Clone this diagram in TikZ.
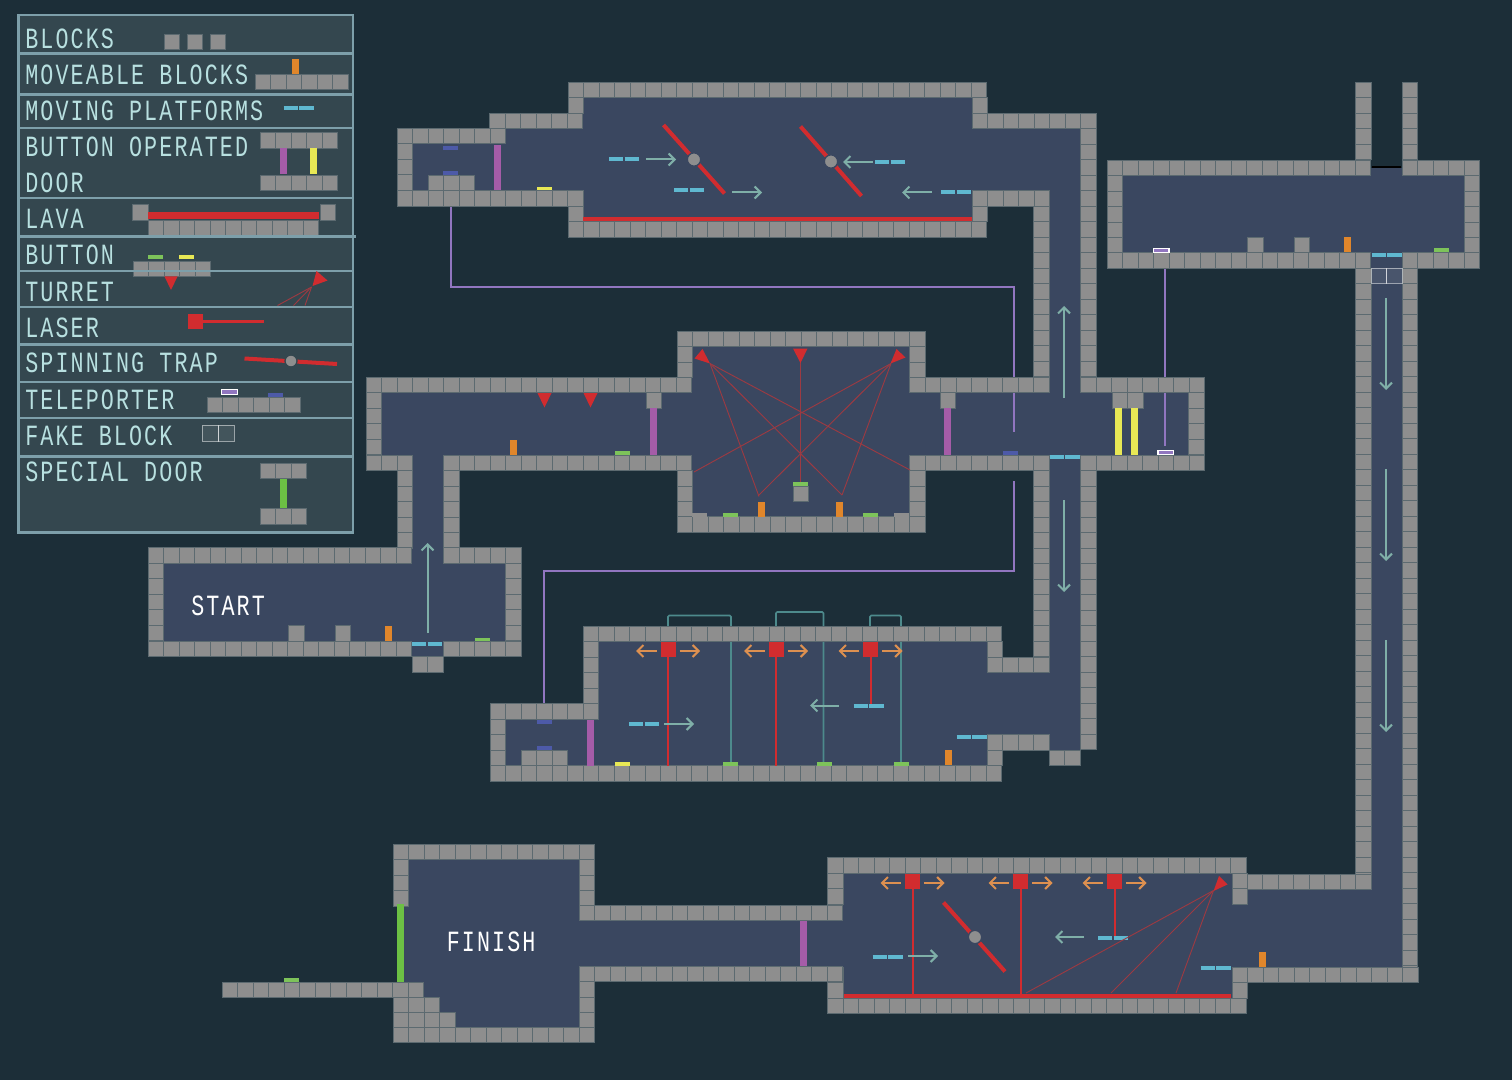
\documentclass[tikz,border=0pt]{standalone}
\usepackage{fontspec}
\usetikzlibrary{arrows.meta}
\newfontfamily\gamefont[FakeStretch=0.74,LetterSpace=7.2]{Liberation Mono}
\definecolor{bgcol}{HTML}{1C2E38}
\definecolor{roomcol}{HTML}{3A4760}
\definecolor{panelcol}{HTML}{34474F}
\definecolor{framecol}{HTML}{7D9FAA}
\definecolor{blockcol}{HTML}{8E8E8E}
\definecolor{edgecol}{HTML}{5C6A70}
\definecolor{lavacol}{HTML}{D12C2F}
\definecolor{beamcol}{HTML}{9C3A42}
\definecolor{doorcol}{HTML}{A55CA8}
\definecolor{yellowcol}{HTML}{E8E855}
\definecolor{greencol}{HTML}{6CC044}
\definecolor{btncol}{HTML}{7DC35A}
\definecolor{movecol}{HTML}{E0862B}
\definecolor{platcol}{HTML}{5FB8D0}
\definecolor{telecol}{HTML}{4D5AA8}
\definecolor{linkcol}{HTML}{9176C0}
\definecolor{wirecol}{HTML}{4D8A8C}
\definecolor{arrcol}{HTML}{7FAFA8}
\definecolor{hintcol}{HTML}{DD9050}
\definecolor{labelcol}{HTML}{B8E0E0}
\tikzset{
	block/.style={fill=blockcol,draw=edgecol,line width=0.7pt},
	fakeblock/.style={fill=white,fill opacity=0.08,draw=white,draw opacity=0.5,line width=0.7pt},
	divider/.style={draw=framecol,line width=1.8pt},
	hint/.style={->,arrcol,line width=1.5pt},
	orangehint/.style={->,hintcol,line width=1.5pt},
	laser/.style={lavacol,line width=1.5pt},
	beam/.style={beamcol,line width=0.7pt},
	wire/.style={wirecol,line width=1.2pt,rounded corners=1pt},
	link/.style={linkcol,line width=1.5pt},
	trap/.style={lavacol,line width=3pt},
	hub/.style={fill=blockcol,draw=roomcol,line width=1pt},
	legendtext/.style={anchor=base west,inner sep=0pt,text=labelcol,font=\gamefont\fontsize{22}{27}\selectfont},
	roomtext/.style={legendtext,text=white}
}
\newcommand{\brow}[3]{\foreach \k in {1,...,#3}{\draw[block] ({#1+(\k-1)*15.5},#2) rectangle +(15.5,15.5);}}
\newcommand{\bcol}[3]{\foreach \k in {1,...,#3}{\draw[block] (#1,{#2+(\k-1)*15.5}) rectangle +(15.5,15.5);}}
\begin{document}
\begin{tikzpicture}[x=0.75pt,y=-0.75pt,>={Straight Barb[length=4.5pt,width=9pt]}]
\fill[bgcol] (0,0) rectangle (1512,1080);
\useasboundingbox (0,0) rectangle (1512,1080);

% room floors
\fill[roomcol] (412,143) rectangle (505,191);
\fill[roomcol] (500,128) rectangle (1081,191);
\fill[roomcol] (583,97) rectangle (972,222);
\fill[roomcol] (1049,128) rectangle (1081,455);
\fill[roomcol] (381,392) rectangle (1189,455);
\fill[roomcol] (692,346) rectangle (910,517);
\fill[roomcol] (412,455) rectangle (444,563);
\fill[roomcol] (163,563) rectangle (506,641);
\fill[roomcol] (412,641) rectangle (444,657);
\fill[roomcol] (1049,455) rectangle (1081,750);
\fill[roomcol] (987,672) rectangle (1081,735);
\fill[roomcol] (598,641) rectangle (987,766);
\fill[roomcol] (505,719) rectangle (598,766);
\fill[roomcol] (1122,175) rectangle (1465,253);
\fill[roomcol] (1371,168) rectangle (1402,967);
\fill[roomcol] (1232,889) rectangle (1402,967);
\fill[roomcol] (843,873) rectangle (1232,998);
\fill[roomcol] (579,920) rectangle (843,966);
\fill[roomcol] (408,859) rectangle (579,1027);
\fill[roomcol] (403,903) rectangle (408,982);

% teleporter links and wires
\draw[link] (450.5,206)--(450.5,287)--(1013.5,287)--(1013.5,432);
\draw[link] (544,704)--(544,571)--(1014,571)--(1014,481);
\draw[link,line width=1.9pt] (1165,268)--(1165,446);
\draw[wire] (668,626)--(668,615.5)--(731,615.5)--(731,762);
\draw[wire] (776,626)--(776,612)--(823.5,612)--(823.5,762);
\draw[wire] (870,626)--(870,615.5)--(901,615.5)--(901,762);

% room with the two traps
\brow{397}{128}{7} \bcol{397}{143.5}{3} \brow{397}{190.5}{12}
\brow{428}{175}{3}
\brow{489.5}{113}{6} \bcol{568}{97.5}{1} \brow{568}{82}{27}
\bcol{568}{206}{1} \brow{568}{221.5}{27}
\bcol{972}{97.5}{1} \brow{972}{113}{8} \brow{972}{190.5}{5} \bcol{972}{206}{1}
\bcol{1033.5}{206}{11} \bcol{1080.5}{128.5}{16}

% hall and turret room
\brow{366}{377}{21} \bcol{366}{392.5}{4} \brow{366}{455}{3} \brow{443.5}{455}{16}
\brow{677}{331}{16} \bcol{677}{346.5}{2} \bcol{909.5}{346.5}{2}
\brow{909.5}{377}{9} \brow{1080.5}{377}{8} \bcol{1188.5}{392.5}{4}
\brow{909.5}{455}{9} \brow{1080.5}{455}{8}
\bcol{677}{470.5}{3} \bcol{909.5}{470.5}{3} \brow{677}{516.5}{16}
\bcol{646}{392.5}{1} \bcol{940}{392.5}{1} \brow{1112}{392.5}{2}
\bcol{793}{486}{1}
\fill[blockcol] (692,513) rectangle (707,516.5);
\fill[blockcol] (894,513) rectangle (909,516.5);

% start room
\bcol{397}{470.5}{5} \bcol{443.5}{470.5}{5}
\brow{148}{547.5}{17} \brow{443.5}{547.5}{5}
\bcol{148}{563}{5} \bcol{505.5}{563}{5}
\brow{148}{641}{17} \brow{443.5}{641}{5} \brow{412}{656.5}{2}
\bcol{288.5}{625.5}{1} \bcol{335}{625.5}{1}

% laser room
\brow{583}{626}{27} \bcol{583}{641.5}{4} \bcol{987}{641.5}{1}
\brow{987}{657}{4} \brow{987}{734.5}{4} \bcol{987}{750}{1}
\brow{490}{703.5}{7} \bcol{490}{719}{3} \brow{490}{765.5}{33}
\brow{521}{750}{3}
\bcol{1033.5}{470.5}{12} \bcol{1080.5}{470.5}{18} \brow{1049}{750}{2}

% room at the top right and long shaft
\bcol{1355.5}{82}{5} \bcol{1402}{82}{5}
\brow{1107}{160}{17} \brow{1402}{160}{5}
\bcol{1107}{175.5}{5} \bcol{1464}{175.5}{5}
\brow{1107}{252.5}{17} \brow{1402}{252.5}{5}
\bcol{1247.5}{237}{1} \bcol{1294}{237}{1}
\bcol{1355.5}{268}{40} \bcol{1402}{268}{46}
\foreach \x in {1371.5,1386.75}{\draw[fakeblock] (\x,268) rectangle +(15.25,15.5);}
\fill[black] (1371.5,166) rectangle (1401,168);

% last room
\brow{827.5}{857.5}{27} \bcol{827.5}{873}{2} \bcol{1232}{873}{2}
\brow{1247}{874}{8}
\brow{1232}{967}{12} \bcol{827.5}{967}{2} \bcol{1232}{982.5}{1}
\brow{827.5}{998}{27}

% finish room
\brow{393}{844}{13} \bcol{393}{859.5}{3} \bcol{579}{859.5}{3}
\brow{579}{905}{17} \brow{579}{966}{17} \bcol{579}{981.5}{3}
\brow{393}{1027}{13} \brow{222}{982}{13}
\brow{393}{997.5}{3} \brow{393}{1012}{4}

% lava
\fill[lavacol] (583,217) rectangle (972,221.5);
\fill[lavacol] (844,993.5) rectangle (1231,997.5);

% doors
\foreach \xa/\ya/\yb in {494/145/190.5,649.5/408/454.5,944/408/454.5,587/720/765.5,800/921/966}{
	\fill[doorcol] (\xa,\ya) rectangle (\xa+7,\yb);}
\foreach \xa in {1115,1131}{\fill[yellowcol] (\xa,408) rectangle (\xa+7,454.5);}
\fill[greencol] (396.5,903.5) rectangle (403.5,981.5);

% buttons
\foreach \xa/\ya in {614.5/451,475/637.5,723/513,863/513,793/482,1433.5/248.5,723/762,817/762,894/762,284/978}{
	\fill[btncol] (\xa,\ya) rectangle (\xa+15,\ya+3.5);}
\foreach \xa/\ya in {536.5/187,614.5/762}{\fill[yellowcol] (\xa,\ya) rectangle (\xa+15,\ya+3.5);}

% moveable blocks
\foreach \xa/\ya in {509.5/440,385/626,758/501.5,836/501.5,944.5/750,1344/237,1259/952}{
	\fill[movecol] (\xa,\ya) rectangle (\xa+7,\ya+15);}

% platforms
\foreach \xa/\ya in {609/157.5,674/188.5,875/160,941/190.5,412/641.5,1371.5/253,1049.5/455,629/722,853.5/703.5,956.5/734.5,872.5/954.5,1098/935.5,1200.5/966}{
	\draw[platcol,line width=3pt] (\xa,\ya+2)--(\xa+14.4,\ya+2) (\xa+15.6,\ya+2)--(\xa+30,\ya+2);}

% teleporters
\foreach \xa/\ya in {443/146,443/171.5,1003/450.5,536.5/720,536.5/746}{
	\fill[telecol] (\xa,\ya) rectangle (\xa+15,\ya+4);}
\foreach \xa/\ya in {1153.5/247.5,1158/449.5}{
	\draw[white,fill=linkcol,line width=1pt] (\xa,\ya+0.7) rectangle (\xa+15.5,\ya+5);}

% turrets
\foreach \xa/\ya/\xb/\yb in {710/363.5/759/496.5,710/363.5/842/495,710/363.5/910/470,891/363.5/694/472,891/363.5/758/496,891/363.5/842/495,1213.5/890.5/1026/993,1213.5/890.5/1111/993,1213.5/890.5/1176/993}{
	\draw[beam] (\xa,\ya)--(\xb,\yb);}
\draw[beam,line width=1pt] (800.5,362)--(800.5,482);
\fill[lavacol] (702.5,349)--(694.5,358.5)--(710,363.5)--cycle;
\fill[lavacol] (793,348.5)--(807.5,348.5)--(800.5,363)--cycle;
\fill[lavacol] (896.5,349)--(905.5,357.5)--(890.5,363.5)--cycle;
\fill[lavacol] (1219,876)--(1227.5,884.5)--(1213.5,891)--cycle;
\foreach \x in {544.5,590.5}{\fill[lavacol] (\x-7,393)--(\x+7,393)--(\x,407.5)--cycle;}

% spinning traps
\draw[trap] (663.5,125)--(724.5,193.5);
\draw[hub] (694,159.5) circle (5pt);
\draw[trap] (800.5,126.5)--(861.5,196);
\draw[hub] (831,161.5) circle (5pt);
\draw[trap] (943.5,902.5)--(1005,971.5);
\draw[hub] (975,937) circle (5pt);

% lasers
\foreach \x/\ya/\yb in {668/657/765.5,776/657/765.5,870.5/657/704,912.5/889/997.5,1020.5/889/997.5,1114.5/889/936}{
	\fill[lavacol] (\x-7.5,\ya-15) rectangle (\x+7.5,\ya);
	\draw[laser] (\x,\ya)--(\x,\yb);
	\draw[orangehint] (\x-11.5,\ya-6)--(\x-32,\ya-6);
	\draw[orangehint] (\x+11.5,\ya-6)--(\x+32,\ya-6);}

% direction of the platforms
\draw[hint] (646,159.5)--(676,159.5);
\draw[hint] (732,192.5)--(762,192.5);
\draw[hint] (872.5,162)--(843,162);
\draw[hint] (932,192.5)--(902,192.5);
\draw[hint] (427.5,633)--(427.5,543);
\draw[hint] (1064,398)--(1064,306);
\draw[hint] (1064,500)--(1064,592);
\draw[hint] (1386,298)--(1386,390);
\draw[hint] (1386,469)--(1386,561);
\draw[hint] (1386,640)--(1386,732);
\draw[hint] (664,724)--(694,724);
\draw[hint] (839,705.5)--(810,705.5);
\draw[hint] (908,956)--(938,956);
\draw[hint] (1084,937)--(1055,937);

\node[roomtext] (start) at (191,615) {START};
\node[roomtext] (finish) at (446.5,951) {FINISH};

% legend panel
\draw[fill=panelcol,draw=framecol,line width=2pt] (18.5,15) rectangle (353,532.5);
\foreach \x in {164,187,210}{\bcol{\x}{34}{1}}
\brow{255}{74}{6} \fill[movecol] (292,59) rectangle (299,74);
\draw[platcol,line width=3pt] (283.5,108)--(298,108) (299.4,108)--(314,108);
\brow{260}{132.5}{5} \brow{260}{175}{5}
\fill[doorcol] (279.5,148) rectangle (286.5,174);
\fill[yellowcol] (309.5,148) rectangle (316.5,174);
\bcol{132.5}{204.5}{1} \bcol{320}{204.5}{1} \brow{148}{220}{11}
\fill[lavacol] (148,212.5) rectangle (319,219.5);
\brow{133}{261}{5}
\fill[btncol] (148,255.5) rectangle (163,259);
\fill[yellowcol] (179,255.5) rectangle (194,259);
\foreach \y in {53.5,94.5,128,198,271,307,344.5,382,418,456.5}{\draw[divider] (19.5,\y)--(352,\y);}
\draw[divider] (19.5,236.5)--(356,236.5);
\fill[lavacol] (164.5,276.5)--(177.5,276.5)--(171,290)--cycle;
\fill[lavacol] (316.5,271)--(327.5,280.5)--(312.5,286)--cycle;
\foreach \x in {277.5,293.5,305}{\draw[beam] (311.5,287)--(\x,305.5);}
\fill[lavacol] (187.5,314.5) rectangle (202.5,329);
\draw[laser,line width=2.2pt] (203,321.5)--(264,321.5);
\draw[trap] (244.5,358.5)--(337,364);
\draw[hub,draw=panelcol] (291,361) circle (4.5pt);
\brow{207}{397}{6}
\draw[white,fill=linkcol,line width=1pt] (221.5,389.5) rectangle (237.5,394.5);
\fill[telecol] (268,392.5) rectangle (283,396.5);
\foreach \x in {202,218}{\draw[fakeblock] (\x,425) rectangle +(16,16);}
\brow{260}{463}{3} \brow{260}{508.5}{3}
\fill[greencol] (279.5,479) rectangle (286.5,508);

% legend labels
\node[legendtext] (blocks) at (25,49) {BLOCKS};
\node[legendtext] (moveable) at (25,85) {MOVEABLE BLOCKS};
\node[legendtext] (moving) at (25,121) {MOVING PLATFORMS};
\node[legendtext] (operated) at (25,157) {BUTTON OPERATED};
\node[legendtext] (door) at (25,193) {DOOR};
\node[legendtext] (lava) at (25,229) {LAVA};
\node[legendtext] (button) at (25,265) {BUTTON};
\node[legendtext] (turret) at (25,301) {TURRET};
\node[legendtext] (laser) at (25,337) {LASER};
\node[legendtext] (spinning) at (25,373) {SPINNING TRAP};
\node[legendtext] (teleporter) at (25,409) {TELEPORTER};
\node[legendtext] (fake) at (25,445) {FAKE BLOCK};
\node[legendtext] (special) at (25,481) {SPECIAL DOOR};
\end{tikzpicture}
\end{document}
